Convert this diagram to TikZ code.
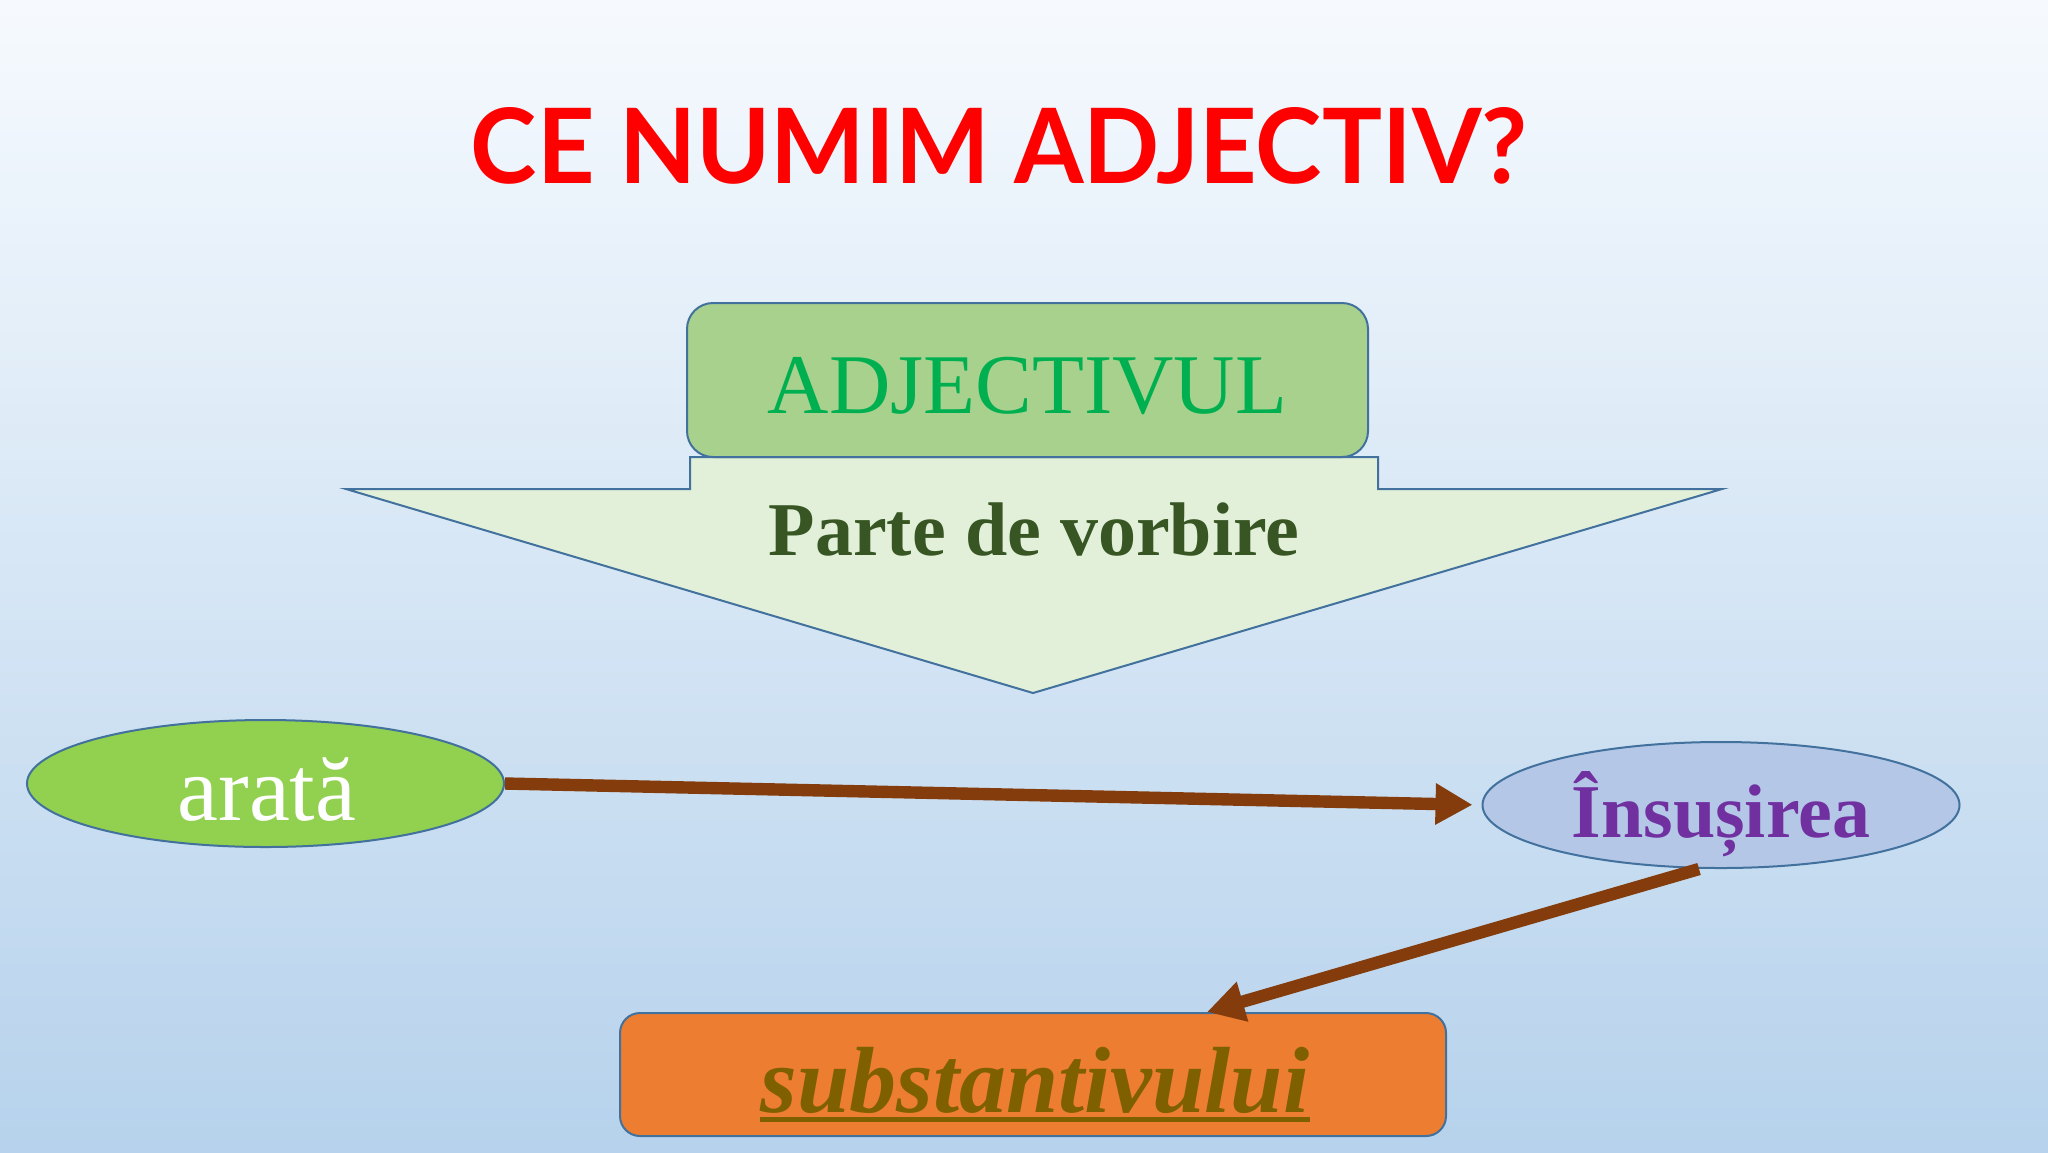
\documentclass[tikz,border=0pt]{standalone}
\usepackage{fontspec}
\setmainfont{Liberation Serif}
\newfontfamily\latofont{Lato}[FakeStretch=0.963]
\usetikzlibrary{arrows.meta,calc,shapes.geometric}
\definecolor{bgtop}{RGB}{246,250,254}
\definecolor{bgbot}{RGB}{182,210,236}
\definecolor{bordc}{HTML}{41719C}
\definecolor{adjfill}{HTML}{A9D18E}
\definecolor{adjtext}{HTML}{00B050}
\definecolor{arrfill}{HTML}{E2F0D9}
\definecolor{partetext}{HTML}{375623}
\definecolor{aratafill}{HTML}{92D050}
\definecolor{insfill}{HTML}{B4C7E7}
\definecolor{instext}{HTML}{7030A0}
\definecolor{subfill}{HTML}{ED7D31}
\definecolor{subtext}{HTML}{7F6000}
\definecolor{brownc}{HTML}{843C0C}
\tikzset{
  shapebox/.style={draw=bordc, line width=1pt, inner sep=0pt},
  ovalnode/.style={shapebox, ellipse},
  txt/.style={inner sep=0pt, anchor=base},
  conn/.style={draw=brownc, line width=6.2pt,
    -{Triangle[length=18.5pt,width=19.5pt]}, brownc},
}
\begin{document}
\begin{tikzpicture}[x=0.5pt,y=-0.5pt]
\fill[top color=bgtop, bottom color=bgbot] (0,0) rectangle (2048,1152);
\useasboundingbox (0,0) rectangle (2048,1152);
% title
\node[txt, text=red] (title) at (999,183)
  {\latofont\bfseries\fontsize{52pt}{60pt}\selectfont CE NUMIM ADJECTIV?};
% down arrow shape
\draw[draw=bordc, line width=1pt, fill=arrfill]
  (690,457) -- (1378,457) -- (1378,489) -- (1722,489) -- (1033,693)
  -- (346,489) -- (690,489) -- cycle;
% ADJECTIVUL box
\node[shapebox, fill=adjfill, rounded corners=13pt, minimum width=340.5pt,
  minimum height=77pt] (adj) at (1027.5,380) {};
\node[txt, text=adjtext] (adjtxt) at (1027.5,413)
  {\fontsize{42.5pt}{50pt}\selectfont ADJECTIVUL};
\node[txt, text=partetext] (parte) at (1034,555)
  {\bfseries\fontsize{38pt}{44pt}\selectfont Parte de vorbire};
% ellipses
\node[ovalnode, fill=aratafill, minimum width=238.5pt, minimum height=63.5pt]
  (arata) at (265.5,783.5) {};
\node[txt, text=white] (aratatxt) at (267,820)
  {\fontsize{46pt}{54pt}\selectfont arată};
\node[ovalnode, fill=insfill, minimum width=238.5pt, minimum height=63pt]
  (ins) at (1721,805) {};
\node[txt, text=instext] (instxt) at (1721,837)
  {\bfseries\fontsize{38pt}{44pt}\selectfont Însușirea};
% substantivului box
\node[shapebox, fill=subfill, rounded corners=10pt, minimum width=413pt,
  minimum height=61.5pt] (subst) at (1033,1074.5) {};
\node[txt, text=subtext] (subtxt) at (1035,1112)
  {\bfseries\itshape\fontsize{47pt}{54pt}\selectfont substantivului};
\draw[subtext, line width=2.5pt]
  ($(subtxt.base west)+(0,7.5)$) -- ($(subtxt.base east)+(0,7.5)$);
% connectors
\coordinate (s2) at ($(ins.south)+(-22,0)$);
\coordinate (e2) at ($(subst.north)+(174,0)$);
\draw[conn, shorten >=4.5pt] (arata.east) -- (ins.west);
\draw[conn] (s2) -- (e2);
\end{tikzpicture}
\end{document}
